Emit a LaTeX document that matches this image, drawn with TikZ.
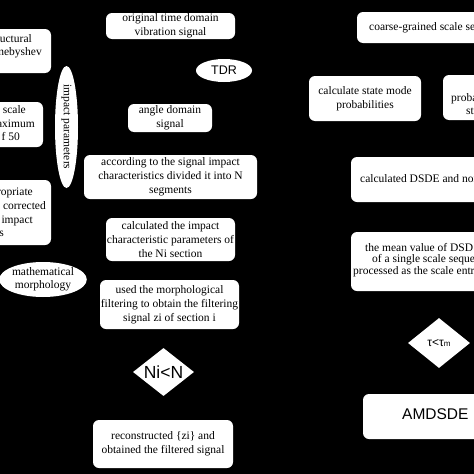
\documentclass[tikz,border=0pt]{standalone}
\usepackage{fontspec}
\setmainfont{Liberation Serif}
\newfontfamily\sansfont{Liberation Sans}
\usetikzlibrary{shapes.geometric}

\begin{document}
\begin{tikzpicture}[x=1pt, y=-1pt,
    box/.style={fill=white, rounded corners=6pt, inner sep=0pt, align=center,
        font=\fontsize{11.5}{13.8}\selectfont},
    oval/.style={ellipse, fill=white, inner sep=0pt, align=center,
        font=\fontsize{11.5}{13}\selectfont},
    test/.style={diamond, fill=white, inner sep=0pt, aspect=1.3},
    cut/.style={inner sep=0pt, font=\fontsize{11.5}{13}\selectfont}]

    \fill[black] (0,0) rectangle (474,474);
    \clip (0,0) rectangle (474,474);

    % middle column
    \node[box, minimum width=129pt, minimum height=26pt] (orig) at (170.5,26)
        {original time domain\\vibration signal};
    \node[oval, minimum width=56pt, minimum height=23pt,
        font=\sansfont\fontsize{12.5}{14}\selectfont] (tdr) at (224,70.5) {TDR};
    \node[box, minimum width=84pt, minimum height=28pt] (angle) at (170,118)
        {angle domain\\signal};
    \node[box, minimum width=173pt, minimum height=44pt] (divide) at (170.5,177)
        {according to the signal impact\\characteristics divided it into N\\segments};
    \node[box, minimum width=129pt, minimum height=43pt] (param) at (170.5,239.5)
        {calculated the impact\\characteristic parameters of\\the Ni section};
    \node[box, minimum width=139pt, minimum height=49pt] (filter) at (169.5,304.5)
        {used the morphological\\filtering to obtain the filtering\\signal zi of section i};
    \node[test, minimum width=61pt, minimum height=48pt,
        font=\sansfont\fontsize{17.5}{18}\selectfont] (loopN) at (163.5,372) {Ni<N};
    \node[box, minimum width=140pt, minimum height=48pt] (recon) at (163,444)
        {reconstructed \{zi\} and\\obtained the filtered signal};

    % left column
    \node[box, minimum width=140pt, minimum height=44pt] (cheb) at (-19,51) {};
    \node[cut, anchor=mid east] at (32,40) {uctural};
    \node[cut, anchor=mid east] at (42,53) {nebyshev};
    \node[oval, rotate=-90, minimum width=122pt, minimum height=23pt] (impact)
        at (66.5,127) {impact parameters};
    \node[box, minimum width=120pt, minimum height=45pt] (scale) at (-17,124.5) {};
    \node[cut, anchor=mid east] at (26,111) {scale};
    \node[cut, anchor=mid east] at (35,125) {aximum};
    \node[cut, anchor=mid east] at (20,138) {f 50};
    \node[box, minimum width=160pt, minimum height=65pt] (approp) at (-29,212.5) {};
    \node[cut, anchor=mid east] at (33,193) {ropriate};
    \node[cut, anchor=mid east] at (46,207) {corrected};
    \node[cut, anchor=mid east] at (33,221) {impact};
    \node[cut, anchor=mid east] at (4,234) {s};
    \node[oval, minimum width=84pt, minimum height=35pt] (morph) at (43,279.5)
        {mathematical\\morphology};

    % right column
    \node[box, minimum width=200pt, minimum height=31pt] (coarse) at (457,27.5) {};
    \node[cut, anchor=mid west] at (369,28) {coarse-grained scale se};
    \node[box, minimum width=112pt, minimum height=45pt] (state) at (365,98.5)
        {calculate state mode\\probabilities};
    \node[box, minimum width=200pt, minimum height=45pt] (proba) at (543,97.5) {};
    \node[cut, anchor=mid west] at (451,99) {proba};
    \node[cut, anchor=mid west] at (466,112) {st};
    \node[box, minimum width=200pt, minimum height=45pt] (dsde) at (451,179.5) {};
    \node[cut, anchor=mid west] at (360,180) {calculated DSDE and nor};
    \node[box, minimum width=200pt, minimum height=59pt] (mean) at (451,261.5) {};
    \node[cut, anchor=mid west] at (365,249) {the mean value of DSD};
    \node[cut, anchor=mid west] at (372,260.5) {of a single scale seque};
    \node[cut, anchor=mid west] at (353,272) {processed as the scale entr};
    \node[test, minimum width=62pt, minimum height=50pt,
        font=\sansfont\fontsize{12}{13}\selectfont] (loopT) at (439,343)
        {τ<τ{\fontsize{8}{9}\selectfont m}};
    \node[box, minimum width=200pt, minimum height=45pt] (amd) at (463,416.5) {};
    \node[cut, anchor=mid west, font=\sansfont\fontsize{15.5}{17}\selectfont]
        at (402,417) {AMDSDE};
\end{tikzpicture}
\end{document}
